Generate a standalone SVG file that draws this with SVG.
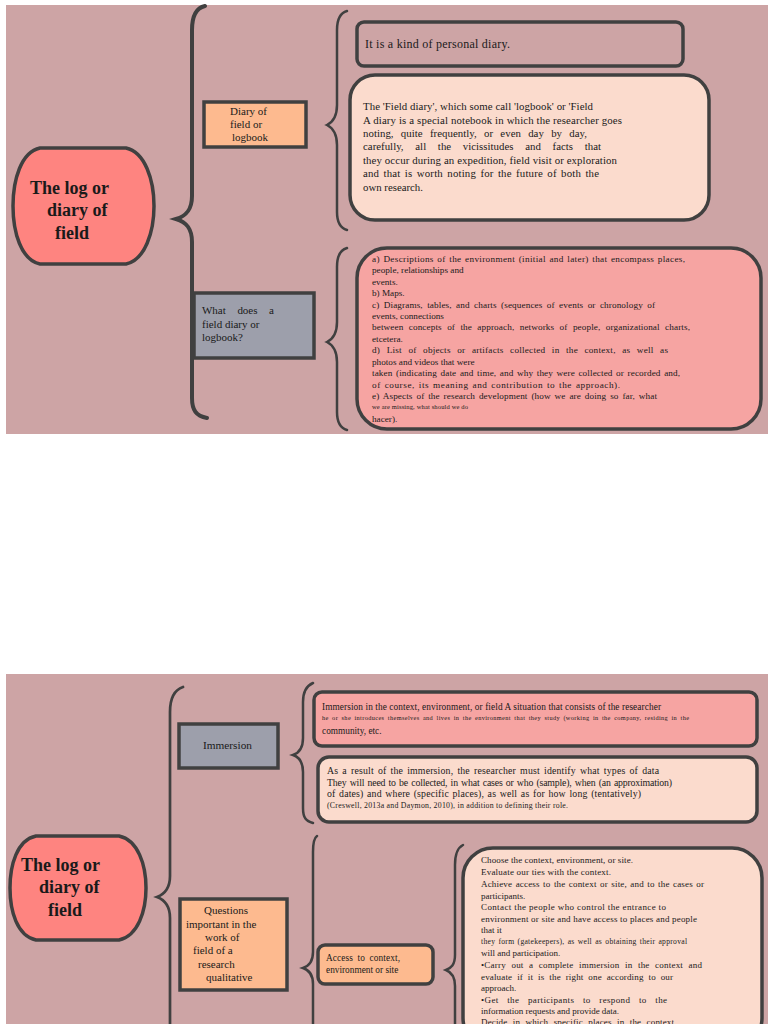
<svg xmlns="http://www.w3.org/2000/svg" width="768" height="1024" viewBox="0 0 768 1024">
<style>
.panel{fill:#cda4a5}
.n{stroke:#404040;stroke-width:3.5}
.red{fill:#fe8480}
.peach{fill:#fbdbcd}
.pink{fill:#f6a4a2}
.orange{fill:#fdba8f}
.gray{fill:#9d9fab}
.brace{fill:none;stroke:#404040;stroke-linecap:round}
text{font-family:"Liberation Serif","Times New Roman",serif;fill:#1a1a1a}
.title{font-size:18px;font-weight:bold}
</style>
<rect width="768" height="1024" fill="#ffffff"/>
<rect class="panel" x="6" y="5" width="762" height="429"/>
<rect class="panel" x="6" y="674" width="762" height="350"/>

<g id="connectors">
<path class="brace" stroke-width="4" d="M205,6 C196,8 192,16 192,30 L192,196 C192,210 186,216 176,219 C186,222 192,228 192,242 L192,398 C192,410 196,416 207,418"/>
<path class="brace" stroke-width="2.5" d="M347,11 C340,13 337,20 337,30 L337,105 C337,117 333,122 327,125 C333,128 337,133 337,145 L337,212 C337,222 340,228 347,230"/>
<path class="brace" stroke-width="2.5" d="M347,248 C340,250 337,257 337,267 L337,322 C337,334 333,339 327,342 C333,345 337,350 337,362 L337,412 C337,422 340,428 347,430"/>
<path class="brace" stroke-width="2.7" d="M183,687 C174,690 170,698 170,712 L170,876 C170,888 165,894 157,897 C165,900 170,906 170,918 L170,1030"/>
<path class="brace" stroke-width="2.5" d="M313,683 C306,686 303,692 303,702 L303,738 C303,748 299,753 293,755 C299,757 303,762 303,772 L303,808 C303,818 306,821 313,823"/>
<path class="brace" stroke-width="2.5" d="M317,836 C314,838 313,845 313,852 L313,952 C313,962 309,966 303,968 C309,970 313,974 313,984 L313,1030"/>
<path class="brace" stroke-width="2.5" d="M463,845 C457,848 455,855 455,865 L455,955 C455,965 451,968 446,970 C451,972 455,976 455,986 L455,1030"/>
</g>

<g id="root1">
<path class="n red" d="M40,148 L126,148 C145,152 154,180 154,206 C154,232 145,260 126,264 L40,264 C21,260 13,232 13,206 C13,180 21,152 40,148 Z"/>
<text class="title" x="30" y="194">The log or</text>
<text class="title" x="47" y="216">diary of</text>
<text class="title" x="55" y="239">field</text>
</g>

<g id="diary">
<rect class="n orange" x="204" y="102" width="102" height="45"/>
<text x="230" y="115" font-size="11">Diary of</text>
<text x="230" y="128" font-size="11">field or</text>
<text x="232" y="141" font-size="11">logbook</text>
</g>

<g id="what">
<rect class="n gray" x="194" y="293" width="120" height="65"/>
<text x="202" y="314" font-size="11" word-spacing="9" textLength="72" lengthAdjust="spacing">What does a</text>
<text x="202" y="328" font-size="11">field diary or</text>
<text x="202" y="341" font-size="11">logbook?</text>
</g>

<g id="personal">
<rect class="n panel" x="357" y="22" width="326" height="44" rx="7"/>
<text x="365" y="48" font-size="12" textLength="145" lengthAdjust="spacing">It is a kind of personal diary.</text>
</g>

<g id="fielddiary">
<rect class="n peach" x="350" y="75" width="359" height="145" rx="25"/>
<g font-size="10.8">
<text x="363" y="110" textLength="230" lengthAdjust="spacing">The 'Field diary', which some call 'logbook' or 'Field</text>
<text x="363" y="123.5" textLength="259" lengthAdjust="spacing">A diary is a special notebook in which the researcher goes</text>
<text x="363" y="137" word-spacing="4.5" textLength="224" lengthAdjust="spacing">noting, quite frequently, or even day by day,</text>
<text x="363" y="150" word-spacing="9" textLength="238" lengthAdjust="spacing">carefully, all the vicissitudes and facts that</text>
<text x="363" y="163.5" textLength="254" lengthAdjust="spacing">they occur during an expedition, field visit or exploration</text>
<text x="363" y="177" word-spacing="1.5" textLength="236" lengthAdjust="spacing">and that is worth noting for the future of both the</text>
<text x="363" y="190.5">own research.</text>
</g>
</g>

<g id="contents">
<rect class="n pink" x="357" y="248" width="404" height="181" rx="30"/>
<g font-size="9.2">
<text x="372" y="262" word-spacing="1" textLength="313" lengthAdjust="spacing">a) Descriptions of the environment (initial and later) that encompass places,</text>
<text x="372" y="273">people, relationships and</text>
<text x="372" y="284.5">events.</text>
<text x="372" y="296">b) Maps.</text>
<text x="372" y="307.5" word-spacing="2" textLength="283" lengthAdjust="spacing">c) Diagrams, tables, and charts (sequences of events or chronology of</text>
<text x="372" y="319">events, connections</text>
<text x="372" y="330" word-spacing="3" textLength="318" lengthAdjust="spacing">between concepts of the approach, networks of people, organizational charts,</text>
<text x="372" y="341.5">etcetera.</text>
<text x="372" y="353" word-spacing="4" textLength="296" lengthAdjust="spacing">d) List of objects or artifacts collected in the context, as well as</text>
<text x="372" y="364.5">photos and videos that were</text>
<text x="372" y="376" word-spacing="1.2" textLength="308" lengthAdjust="spacing">taken (indicating date and time, and why they were collected or recorded and,</text>
<text x="372" y="387.5" word-spacing="1" textLength="248" lengthAdjust="spacing">of course, its meaning and contribution to the approach).</text>
<text x="372" y="399" word-spacing="1.5" textLength="285" lengthAdjust="spacing">e) Aspects of the research development (how we are doing so far, what</text>
<text x="372" y="408.5" font-size="6.5" textLength="96" lengthAdjust="spacing">we are missing, what should we do</text>
<text x="372" y="422">hacer).</text>
</g>
</g>

<g id="root2">
<path class="n red" d="M36,836 L119,836 C138,840 146,865 146,888 C146,911 138,936 119,940 L36,940 C17,936 10,911 10,888 C10,865 17,840 36,836 Z"/>
<text class="title" x="21" y="871">The log or</text>
<text class="title" x="39" y="893">diary of</text>
<text class="title" x="48" y="916">field</text>
</g>

<g id="immersion">
<rect class="n gray" x="179" y="724" width="99" height="44"/>
<text x="203" y="749" font-size="11.3">Immersion</text>
</g>

<g id="immersion-def">
<rect class="n pink" x="314" y="692" width="443" height="54" rx="8"/>
<text x="322" y="710" font-size="9.3" textLength="339" lengthAdjust="spacing">Immersion in the context, environment, or field A situation that consists of the researcher</text>
<text x="322" y="719.5" font-size="6.3" word-spacing="1.5" textLength="367" lengthAdjust="spacing">he or she introduces themselves and lives in the environment that they study (working in the company, residing in the</text>
<text x="322" y="733.5" font-size="9.3">community, etc.</text>
</g>

<g id="immersion-result">
<rect class="n peach" x="318" y="757" width="439" height="65" rx="11"/>
<text x="327" y="774" font-size="9.8" word-spacing="1.5" textLength="332" lengthAdjust="spacing">As a result of the immersion, the researcher must identify what types of data</text>
<text x="327" y="785.5" font-size="9.8" word-spacing="1" textLength="345" lengthAdjust="spacing">They will need to be collected, in what cases or who (sample), when (an approximation)</text>
<text x="327" y="797" font-size="9.8" word-spacing="1" textLength="314" lengthAdjust="spacing">of dates) and where (specific places), as well as for how long (tentatively)</text>
<text x="327" y="808" font-size="7.8" textLength="241" lengthAdjust="spacing">(Creswell, 2013a and Daymon, 2010), in addition to defining their role.</text>
</g>

<g id="questions">
<rect class="n orange" x="180" y="899" width="107" height="91"/>
<g font-size="11">
<text x="204" y="914">Questions</text>
<text x="186" y="928">important in the</text>
<text x="205" y="941">work of</text>
<text x="193" y="954">field of a</text>
<text x="198" y="968">research</text>
<text x="206" y="981">qualitative</text>
</g>
</g>

<g id="access">
<rect class="n orange" x="318" y="945" width="115" height="39" rx="7"/>
<text x="326" y="961" font-size="9.3" word-spacing="2" textLength="74" lengthAdjust="spacing">Access to context,</text>
<text x="326" y="973" font-size="9.3">environment or site</text>
</g>

<g id="access-steps">
<rect class="n peach" x="463" y="848" width="299" height="200" rx="30"/>
<g font-size="9">
<text x="481" y="863" textLength="152" lengthAdjust="spacing">Choose the context, environment, or site.</text>
<text x="481" y="875" textLength="130" lengthAdjust="spacing">Evaluate our ties with the context.</text>
<text x="481" y="887" word-spacing="1" textLength="223" lengthAdjust="spacing">Achieve access to the context or site, and to the cases or</text>
<text x="481" y="898.5">participants.</text>
<text x="481" y="910" textLength="185" lengthAdjust="spacing">Contact the people who control the entrance to</text>
<text x="481" y="922" textLength="216" lengthAdjust="spacing">environment or site and have access to places and people</text>
<text x="481" y="933">that it</text>
<text x="481" y="944" font-size="7.6" word-spacing="1" textLength="206" lengthAdjust="spacing">they form (gatekeepers), as well as obtaining their approval</text>
<text x="481" y="956">will and participation.</text>
<text x="481" y="968" word-spacing="3" textLength="221" lengthAdjust="spacing">•Carry out a complete immersion in the context and</text>
<text x="481" y="980" word-spacing="2.5" textLength="192" lengthAdjust="spacing">evaluate if it is the right one according to our</text>
<text x="481" y="991">approach.</text>
<text x="481" y="1002.5" word-spacing="6" textLength="186" lengthAdjust="spacing">•Get the participants to respond to the</text>
<text x="481" y="1014" textLength="138" lengthAdjust="spacing">information requests and provide data.</text>
<text x="481" y="1025" word-spacing="3" textLength="193" lengthAdjust="spacing">Decide in which specific places in the context</text>
</g>
</g>
</svg>
